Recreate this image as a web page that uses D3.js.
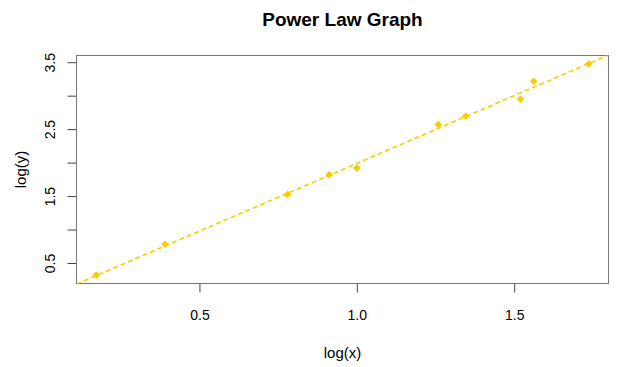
<!DOCTYPE html>
<html>
<head>
<meta charset="utf-8">
<script src="https://cdn.jsdelivr.net/npm/d3@7"></script>
<style>
  body { margin: 0; background: #fff; }
  text { font-family: "Liberation Sans", Arial, Helvetica, sans-serif; }
</style>
</head>
<body>
<div id="chart"></div>
<script>
// data (log scale values)
const logX = [0.172, 0.391, 0.78, 0.912, 1.0, 1.259, 1.346, 1.52, 1.562, 1.737];
const logY = [0.32, 0.779, 1.524, 1.82, 1.919, 2.57, 2.694, 2.95, 3.215, 3.474];
const xTicks = [0.5, 1.0, 1.5];
const yTicks = [0.5, 1.0, 1.5, 2.0, 2.5, 3.0, 3.5];
const yLabels = [0.5, 1.5, 2.5, 3.5];
// fitted line
const intercept = -0.037;
const slope = 2.025;

const width = 618, height = 367;
const margin = { top: 55.5, right: 9.5, bottom: 83.5, left: 76.5 };
const w = width - margin.left - margin.right;
const h = height - margin.top - margin.bottom;
const yellow = "#F7CD00";

const svg = d3.select("#chart")
  .append("svg")
  .attr("width", width)
  .attr("height", height);

// R style 4% range padding
const pad = (ext) => {
  const d = (ext[1] - ext[0]) * 0.04;
  return [ext[0] - d, ext[1] + d];
};

const x = d3.scaleLinear().domain(pad(d3.extent(logX))).range([0, w]);
const y = d3.scaleLinear().domain(pad(d3.extent(logY))).range([h, 0]);

const g = svg.append("g")
  .attr("transform", `translate(${margin.left}, ${margin.top})`);

// title
svg.append("text")
  .attr("x", margin.left + w / 2)
  .attr("y", 26)
  .attr("text-anchor", "middle")
  .style("font-size", "19px")
  .style("font-weight", "bold")
  .text("Power Law Graph");

// x axis
const xAxis = g.append("g")
  .attr("transform", `translate(0, ${h})`)
  .call(d3.axisBottom(x).tickValues(xTicks).tickSize(9).tickFormat(d3.format(".1f")));
xAxis.select(".domain").remove();
xAxis.selectAll("line").attr("stroke", "#444");
xAxis.selectAll("text")
  .attr("y", 36)
  .attr("dy", 0)
  .attr("fill", "#000")
  .style("font-size", "14px");
xAxis.append("line")
  .attr("x1", x(xTicks[0])).attr("x2", x(xTicks[xTicks.length - 1]))
  .attr("stroke", "#333");

// y axis
const yAxis = g.append("g")
  .call(d3.axisLeft(y).tickValues(yTicks).tickSize(9)
    .tickFormat((d) => (yLabels.includes(d) ? d3.format(".1f")(d) : "")));
yAxis.select(".domain").remove();
yAxis.selectAll("line").attr("stroke", "#444");
yAxis.selectAll("text")
  .attr("x", 0)
  .attr("y", -22)
  .attr("dy", 0)
  .attr("transform", "rotate(-90)")
  .attr("text-anchor", "middle")
  .attr("fill", "#000")
  .style("font-size", "14px");
yAxis.append("line")
  .attr("y1", y(yTicks[0])).attr("y2", y(yTicks[yTicks.length - 1]))
  .attr("stroke", "#333");

// box
g.append("rect")
  .attr("width", w)
  .attr("height", h)
  .attr("fill", "none")
  .attr("stroke", "#777");

// axis titles
svg.append("text")
  .attr("x", margin.left + w / 2)
  .attr("y", 358)
  .attr("text-anchor", "middle")
  .style("font-size", "15px")
  .text("log(x)");

svg.append("text")
  .attr("transform", `translate(26, ${margin.top + h / 2}) rotate(-90)`)
  .attr("text-anchor", "middle")
  .style("font-size", "15px")
  .text("log(y)");

// clip for the fitted line
svg.append("clipPath").attr("id", "clip")
  .append("rect").attr("width", w).attr("height", h);

const x0 = x.domain()[0], x1 = x.domain()[1];
g.append("line")
  .attr("clip-path", "url(#clip)")
  .attr("x1", x(x0)).attr("y1", y(intercept + slope * x0))
  .attr("x2", x(x1)).attr("y2", y(intercept + slope * x1))
  .attr("stroke", yellow)
  .attr("stroke-width", 1.6)
  .attr("stroke-dasharray", "5,3");

// points (filled diamonds)
const pts = logX.map((d, i) => [d, logY[i]]);
g.selectAll(".pt")
  .data(pts)
  .enter()
  .append("path")
  .attr("class", "pt")
  .attr("d", d3.symbol(d3.symbolSquare, 30))
  .attr("transform", (d) => `translate(${x(d[0])}, ${y(d[1])}) rotate(45)`)
  .attr("fill", yellow);
</script>
</body>
</html>
